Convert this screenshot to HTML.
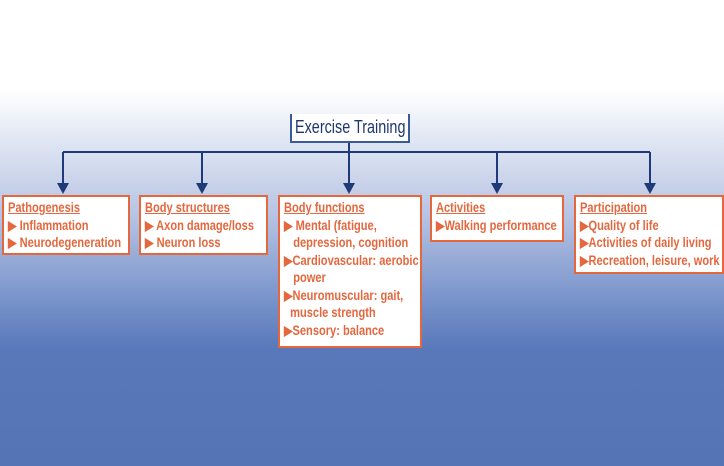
<!DOCTYPE html>
<html><head><style>
body{margin:0;width:724px;height:466px;overflow:hidden;background:linear-gradient(to bottom,#fff 0px,#fff 90px,#e6ebf5 130px,#b4c1e2 220px,#7893cb 300px,#5878b9 350px,#5474b6 466px);position:relative;font-family:"Liberation Sans",sans-serif}
.b{position:absolute;background:#fff;border:2px solid #e4673e;box-sizing:border-box;color:#e4673e;font-size:13.5px;line-height:17.5px;font-weight:bold;white-space:nowrap;overflow:hidden}
.b .in{position:absolute;left:4px;top:2px;transform:scaleX(0.82);transform-origin:0 0}
.b u{text-decoration:underline}
.t{position:absolute;left:290px;top:114px;width:120px;height:29px;border:2px solid #3a5a9a;border-top:none;box-sizing:border-box;background:#fff;color:#1e3670;font-size:18px;line-height:27px;white-space:nowrap;overflow:hidden}
.t span{position:absolute;left:3px;top:0;transform:scaleX(0.8);transform-origin:0 0}
svg{position:absolute;left:0;top:0}
</style></head><body>
<svg width="724" height="466">
<g stroke="#1e3a78" stroke-width="2" fill="none">
<line x1="349" y1="142" x2="349" y2="152"/>
<line x1="63" y1="152" x2="650" y2="152"/>
<line x1="63" y1="152" x2="63" y2="185"/>
<line x1="202" y1="152" x2="202" y2="185"/>
<line x1="349" y1="152" x2="349" y2="185"/>
<line x1="497" y1="152" x2="497" y2="185"/>
<line x1="650" y1="152" x2="650" y2="185"/>
</g>
<g fill="#1e3a78">
<polygon points="57,183 69,183 63,194"/>
<polygon points="196,183 208,183 202,194"/>
<polygon points="343,183 355,183 349,194"/>
<polygon points="491,183 503,183 497,194"/>
<polygon points="644,183 656,183 650,194"/>
</g>
</svg>
<div class="t"><span>Exercise Training</span></div>
<div class="b" style="left:2px;top:195px;width:128px;height:60px"><div class="in"><u>Pathogenesis</u><br>▶ Inflammation<br>▶ Neurodegeneration</div></div>
<div class="b" style="left:139px;top:195px;width:129px;height:60px"><div class="in"><u>Body structures</u><br>▶ Axon damage/loss<br>▶ Neuron loss</div></div>
<div class="b" style="left:278px;top:195px;width:144px;height:153px"><div class="in"><u>Body functions</u><br>▶ Mental (fatigue,<br>&nbsp;&nbsp;&nbsp;depression, cognition<br>▶Cardiovascular: aerobic<br>&nbsp;&nbsp;&nbsp;power<br>▶Neuromuscular: gait,<br>&nbsp;&nbsp;muscle strength<br>▶Sensory: balance</div></div>
<div class="b" style="left:430px;top:195px;width:134px;height:47px"><div class="in"><u>Activities</u><br>▶Walking performance</div></div>
<div class="b" style="left:574px;top:195px;width:150px;height:79px"><div class="in"><u>Participation</u><br>▶Quality of life<br>▶Activities of daily living<br>▶Recreation, leisure, work</div></div>
</body></html>
